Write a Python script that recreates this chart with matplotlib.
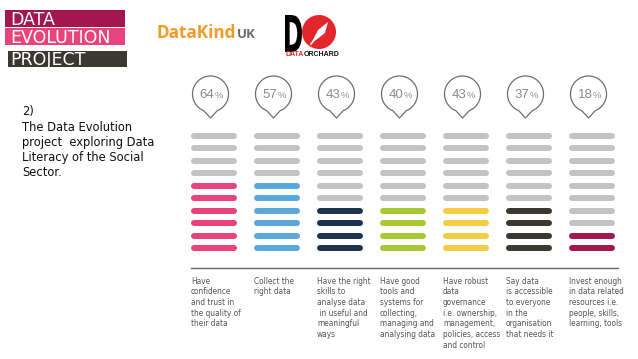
import matplotlib
matplotlib.use("Agg")
import matplotlib.pyplot as plt
from matplotlib.patches import Rectangle, Circle, PathPatch, Polygon
from matplotlib.textpath import TextPath
from matplotlib.font_manager import FontProperties, fontManager
from matplotlib.transforms import Affine2D
import numpy as np

# ---------------- data ----------------
percent_labels = ["64", "57", "43", "40", "43", "37", "18"]
filled_bars = [6, 6, 4, 4, 4, 4, 2]          # coloured bars out of total_bars
total_bars = 10
series_colors = ["#e8437c", "#5aa8dc", "#1c3350", "#a9c934",
                 "#f4cd45", "#3b3831", "#a4164f"]
categories = [
    "Have\nconfidence\nand trust in\nthe quality of\ntheir data",
    "Collect the\nright data",
    "Have the right\nskills to\nanalyse data\n in useful and\nmeaningful\nways",
    "Have good\ntools and\nsystems for\ncollecting,\nmanaging and\nanalysing data",
    "Have robust\ndata\ngovernance\ni.e. ownership,\nmanagement,\npolicies, access\nand control",
    "Say data\nis accessible\nto everyone\nin the\norganisation\nthat needs it",
    "Invest enough\nin data related\nresources i.e.\npeople, skills,\nlearning, tools",
]
intro_text = "2)\nThe Data Evolution\nproject  exploring Data\nLiteracy of the Social\nSector."

# ---------------- font choice for the narrow labels ----------------
names = {f.name for f in fontManager.ttflist}
dv_cond = any(f.name == "DejaVu Sans" and "condensed" in str(f.stretch)
              for f in fontManager.ttflist)
if "Liberation Sans Narrow" in names:
    lab_kw = dict(family="Liberation Sans Narrow")
    lab_size = 6.6
elif dv_cond:
    lab_kw = dict(family="DejaVu Sans", fontstretch="condensed")
    lab_size = 5.95
else:
    lab_kw = dict(family="Liberation Sans")
    lab_size = 5.95

# ---------------- layout ----------------
W, H = 638, 359
fig = plt.figure(figsize=(W / 100, H / 100), dpi=100)
ax = fig.add_axes([0, 0, 1, 1])
ax.set_xlim(0, W)
ax.set_ylim(H, 0)
ax.axis("off")

gray_bar = "#c3c3c3"
x0, dx = 214, 63          # column centres
bar_w = 46
bar_y0, bar_dy = 135.7, 12.5
lw_pt = 6 * 0.72
lab_y0, lab_dy = 281, 10.7

for i, (pct, n, col, cat) in enumerate(zip(percent_labels, filled_bars,
                                           series_colors, categories)):
    cx = x0 + i * dx
    # bars
    for j in range(total_bars):
        y = bar_y0 + j * bar_dy
        c = col if j >= total_bars - n else gray_bar
        ax.plot([cx - bar_w / 2 + 3, cx + bar_w / 2 - 3], [y, y], color=c,
                lw=lw_pt, solid_capstyle="round")
    # bubble
    bx, cy, r = cx - 3.5, 94, 18
    th = np.radians(np.linspace(-68, 248, 120))
    pts = [(bx + r * np.cos(t), cy - r * np.sin(t)) for t in th]
    pts.append((bx, cy + 24))
    ax.add_patch(Polygon(pts, closed=True, fill=False, ec="#6e6e6e", lw=0.9,
                         joinstyle="round", zorder=2))
    ax.text(bx + 4, cy + 1, pct, ha="right", va="center", fontsize=9.5,
            color="#8c8c8c", family="Liberation Sans", zorder=5)
    ax.text(bx + 4, cy + 2, "%", ha="left", va="center", fontsize=6.8,
            color="#8c8c8c", family="Liberation Sans", zorder=5)
    # category label, one line at a time
    for k, line in enumerate(cat.split("\n")):
        ax.text(cx - bar_w / 2, lab_y0 + k * lab_dy, line, ha="left",
                va="center", fontsize=lab_size, color="#555555", **lab_kw)

# axis rule under the bars
ax.plot([x0 - bar_w / 2, x0 + 6 * dx + bar_w / 2 + 3], [267.5, 267.5],
        color="#666666", lw=1.0)

# intro text
for k, line in enumerate(intro_text.split("\n")):
    ax.text(22, 112 + k * 15.2, line, ha="left", va="center", fontsize=8.3,
            color="#111111", family="DejaVu Sans")

# ---------------- logos ----------------
ax.add_patch(Rectangle((5, 10), 120, 17, color="#a3164f", lw=0))
ax.add_patch(Rectangle((5, 28), 120, 17, color="#e8437c", lw=0))
ax.add_patch(Rectangle((8, 51), 119, 16, color="#3b3831", lw=0))
for txt, yb in [("DATA", 25), ("EVOLUTION", 43), ("PROJECT", 65)]:
    ax.text(10, yb, txt, ha="left", va="baseline", fontsize=12.5,
            color="white", family="DejaVu Sans")

ax.text(156, 33, "DataKind", ha="left", va="center", fontsize=12.3,
        color="#f39a24", family="Open Sans", fontweight="bold")
ax.text(237, 34, "UK", ha="left", va="center", fontsize=9.5,
        color="#6d6d6d", family="Open Sans", fontweight="bold")

# DataOrchard logo
fp = FontProperties(family="DejaVu Sans", weight="bold")
tp = TextPath((0, 0), "D", prop=fp, size=1)
ext = tp.get_extents()
sx = 17 / ext.width
sy = 37 / ext.height
tr = Affine2D().translate(-ext.x0, -ext.y0).scale(sx, -sy).translate(285, 52)
ax.add_patch(PathPatch(tr.transform_path(tp), color="black", lw=0))
ax.add_patch(Circle((319, 32), 17, color="#e3262c", lw=0))
leaf = Polygon([(312, 42), (318, 30), (328, 22), (325, 33), (316, 40)],
               closed=True, color="white", lw=0)
ax.add_patch(leaf)
ax.plot([311, 322], [44, 30], color="white", lw=1.2)
ax.text(303.5, 55, "DATA", ha="right", va="center", fontsize=5.0,
        color="#e3262c", family="Liberation Sans", fontweight="bold")
ax.text(303.5, 55, "ORCHARD", ha="left", va="center", fontsize=5.0,
        color="#111111", family="Liberation Sans", fontweight="bold")

fig.savefig("out.png", dpi=100)
